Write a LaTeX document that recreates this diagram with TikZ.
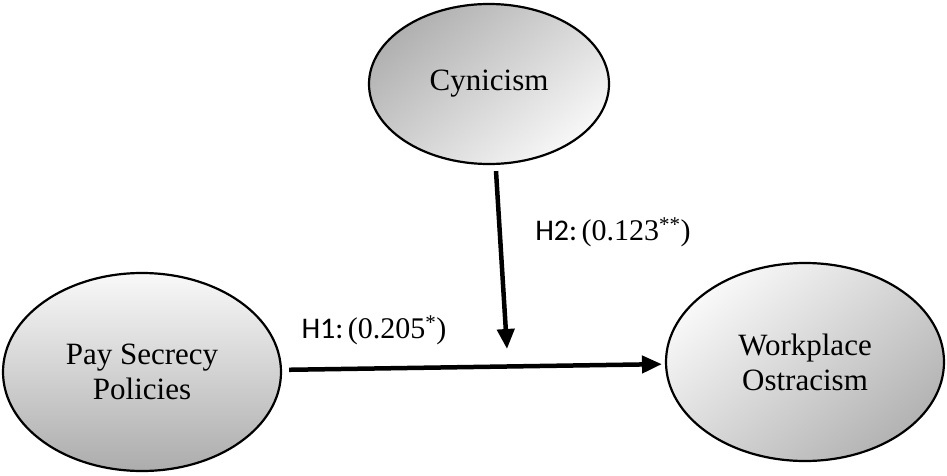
\documentclass[tikz,border=0pt]{standalone}
\usepackage{fontspec}
\setmainfont{Liberation Serif}
\newfontfamily\lblsans{Carlito}
\usetikzlibrary{shapes.geometric,arrows.meta}
\tikzset{
  var/.style={ellipse, draw=black, line width=2.2pt, align=center,
    font=\fontsize{31}{35}\selectfont, inner sep=0pt},
  conn/.style={line width=4.5pt, -{Triangle[length=20pt,width=17pt]}},
  hlabel/.style={font=\fontsize{30}{32}\selectfont, inner sep=0pt}
}
\begin{document}
\begin{tikzpicture}[x=1pt,y=-1pt]
\useasboundingbox (0,0) rectangle (947,476);
\node[var, minimum width=240pt, minimum height=160pt,
  top color=gray!62, bottom color=gray!6, shading angle=40]
  (cyn) at (489,84) {Cynicism};
\node[var, minimum width=278pt, minimum height=198pt,
  top color=gray!5, bottom color=gray!65]
  (pay) at (142,372) {Pay Secrecy\\Policies};
\node[var, minimum width=278pt, minimum height=198pt,
  top color=gray!5, bottom color=gray!60, shading angle=40]
  (work) at (805,362) {Workplace\\Ostracism};
\coordinate (mtip) at (507,349);
\draw[conn, shorten <=7pt, shorten >=3pt] (pay) -- (work);
\draw[conn] ([xshift=7pt,yshift=-6pt]cyn.south) -- (mtip);
\node[hlabel] (h1) at (374,330) {{\lblsans H1:}\hspace{0.15em}(0.205\textsuperscript{*})};
\node[hlabel] (h2) at (613,232) {{\lblsans H2:}\hspace{0.15em}(0.123\textsuperscript{**})};
\end{tikzpicture}
\end{document}
